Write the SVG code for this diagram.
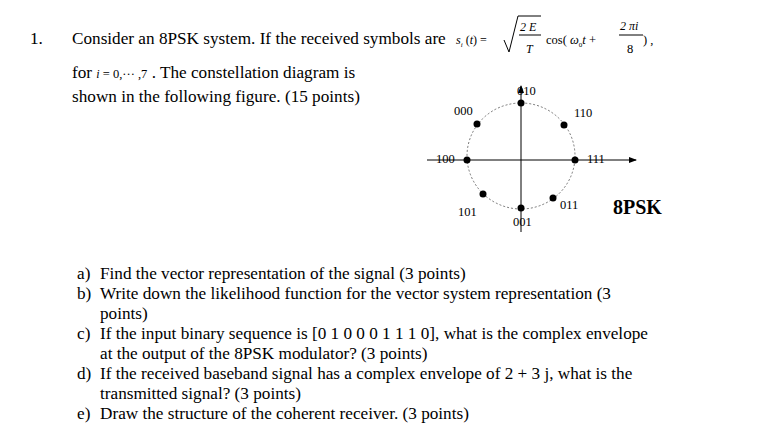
<svg xmlns="http://www.w3.org/2000/svg" width="759" height="439" viewBox="0 0 759 439">
<style>
text{font-family:"Liberation Serif",serif;fill:#000}
.t{font-size:17.2px}
.m{font-size:12px;font-style:italic}
.s{font-size:12.5px}
.d{fill:#000}
</style>
<defs><marker id="ah" markerWidth="8" markerHeight="8" refX="7" refY="4" orient="auto" markerUnits="userSpaceOnUse"><path d="M0,1 L8,4 L0,7 Z"/></marker></defs>
<rect width="759" height="439" fill="#fff"/>
<text class="t" x="30" y="44">1.</text>
<text class="t" x="72" y="44">Consider an 8PSK system. If the received symbols are</text>
<text class="m" x="456" y="44">s<tspan font-size="7" dy="3">i</tspan><tspan dy="-3" font-style="normal"> (</tspan>t<tspan font-style="normal">) =</tspan></text>
<path d="M504,40 L509,52 L518,16 L541,16" fill="none" stroke="#000" stroke-width="1"/>
<text class="m" x="520" y="31">2 E</text>
<line x1="519" y1="35" x2="541" y2="35" stroke="#000"/>
<text class="m" x="526" y="53">T</text>
<text class="s" x="546" y="44">cos(  <tspan font-style="italic">ω</tspan><tspan font-size="7" dy="3">0</tspan><tspan dy="-3" font-style="italic">t</tspan> +</text>
<text class="m" x="620" y="30">2 πi</text>
<line x1="619" y1="35" x2="643" y2="35" stroke="#000"/>
<text class="s" x="627" y="53">8</text>
<text class="s" x="643" y="44">) ,</text>
<text class="t" x="72" y="78">for <tspan class="m" font-size="12.5">i</tspan><tspan font-size="12.5"> = 0,··· ,7</tspan> . The constellation diagram is</text>
<text class="t" x="72" y="102">shown in the following figure. (15 points)</text>
<g id="axes" stroke="#000" stroke-width="1">
<line x1="521" y1="232" x2="521" y2="86" marker-end="url(#ah)"/>
<line x1="427" y1="160" x2="636" y2="160" marker-end="url(#ah)"/>
</g>
<g id="constellation">
<ellipse cx="521" cy="156" rx="54" ry="53" fill="none" stroke="#555" stroke-dasharray="2,2" stroke-width="0.8"/>
<circle class="d" cx="521" cy="103" r="3.5"/>
<circle class="d" cx="477" cy="124" r="3.5"/>
<circle class="d" cx="564" cy="125" r="3.5"/>
<circle class="d" cx="467" cy="160" r="3.5"/>
<circle class="d" cx="575" cy="160" r="3.5"/>
<circle class="d" cx="483" cy="194" r="3.5"/>
<circle class="d" cx="553" cy="198" r="3.5"/>
<circle class="d" cx="521" cy="208" r="3.5"/>
<text class="s" x="517" y="95">010</text>
<text class="s" x="454" y="115">000</text>
<text class="s" x="574" y="117">110</text>
<text class="s" x="436" y="163">100</text>
<text class="s" x="587" y="163">111</text>
<text class="s" x="458" y="216">101</text>
<text class="s" x="560" y="209">011</text>
<text class="s" x="513" y="226">001</text>
<text x="613" y="214" font-size="20" font-weight="bold">8PSK</text>
</g>
<g id="questions">
<text class="t" x="77" y="279">a)</text><text class="t" x="100" y="279">Find the vector representation of the signal (3 points)</text>
<text class="t" x="77" y="299">b)</text><text class="t" x="100" y="299">Write down the likelihood function for the vector system representation (3</text>
<text class="t" x="100" y="319">points)</text>
<text class="t" x="77" y="339">c)</text><text class="t" x="100" y="339">If the input binary sequence is [0 1 0 0 0 1 1 1 0], what is the complex envelope</text>
<text class="t" x="100" y="359">at the output of the 8PSK modulator? (3 points)</text>
<text class="t" x="77" y="379">d)</text><text class="t" x="100" y="379">If the received baseband signal has a complex envelope of 2 + 3 j, what is the</text>
<text class="t" x="100" y="399">transmitted signal? (3 points)</text>
<text class="t" x="77" y="419">e)</text><text class="t" x="100" y="419">Draw the structure of the coherent receiver. (3 points)</text>
</g>
</svg>
